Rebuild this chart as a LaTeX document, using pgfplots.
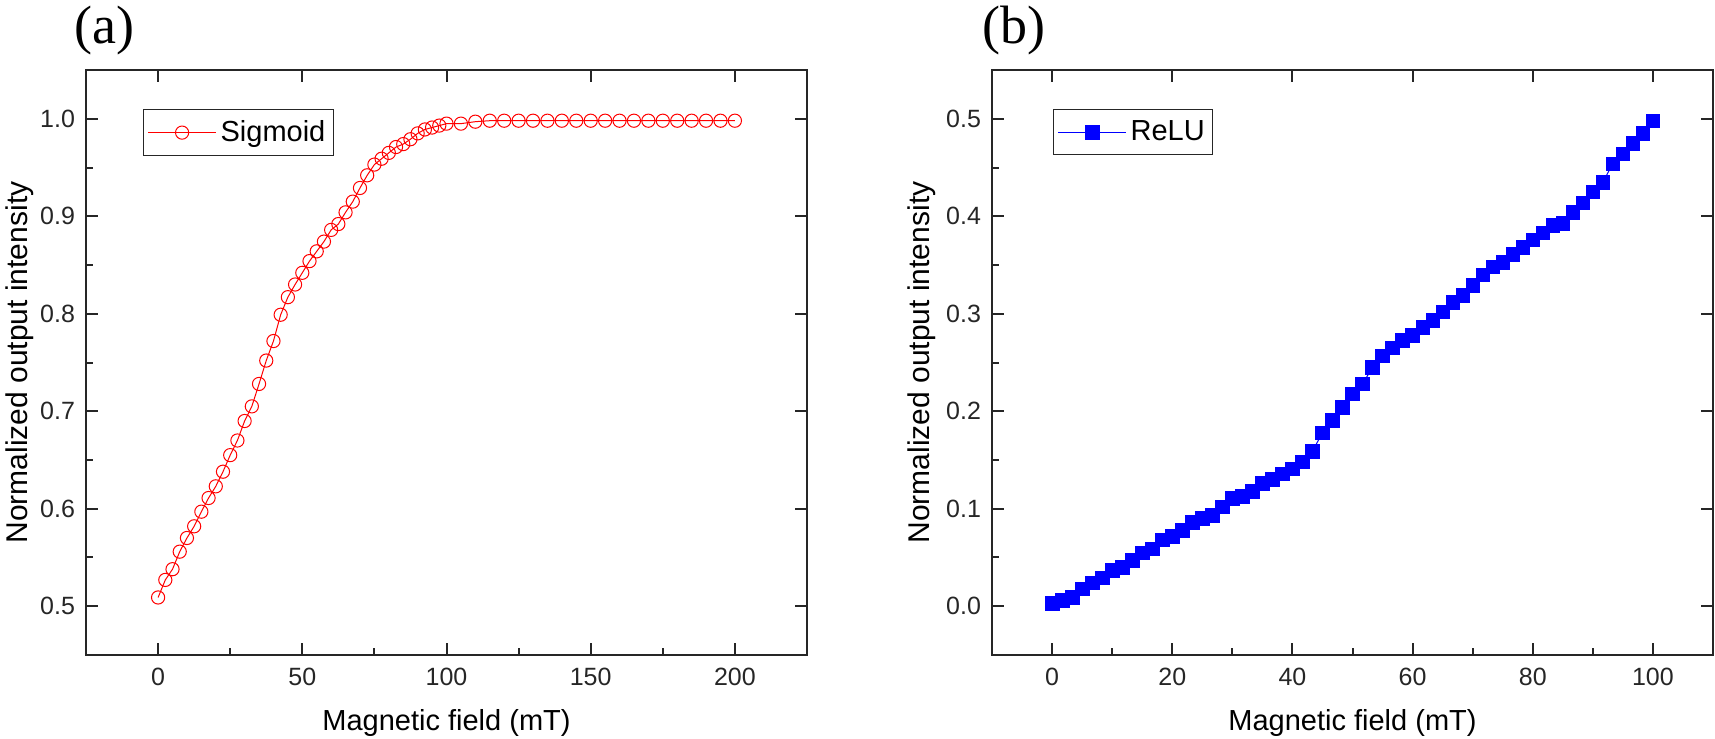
\documentclass[border=0pt]{standalone}
\usepackage{pgfplots}
\pgfplotsset{compat=1.18}
\usepackage{fontspec}
\setmainfont{Liberation Sans}
\newfontfamily\serifpanel{Liberation Serif}

\pgfplotsset{
  myaxis/.style={
    scale only axis, width=360.5pt, height=292.5pt, anchor=south west,
    axis line style={black!85, line width=1pt},
    tick style={black!85, line width=1pt},
    tick align=inside,
    major tick length=6pt, minor tick length=3.5pt,
    xtick pos=left, ytick pos=left,
    minor x tick num=1, minor y tick num=1,
    /pgf/number format/assume math mode=true,
    tick label style={font=\fontsize{12.5}{15}\selectfont, text=black!85},
    xticklabel style={yshift=-3pt},
    yticklabel style={xshift=-2pt, /pgf/number format/.cd, fixed, fixed zerofill, precision=1},
    every axis x label/.style={at={(axis description cs:0.5,0)}, anchor=base, yshift=-38pt, font=\fontsize{14.5}{17}\selectfont, text=black},
    every axis y label/.style={at={(axis description cs:0,0.5)}, rotate=90, anchor=base, yshift=29pt, font=\fontsize{15}{17}\selectfont, text=black},
    legend style={at={(axis description cs:0,1)}, anchor=north west, yshift=-19.5pt,
      draw=black!85, line width=0.6pt, font=\fontsize{14.5}{17}\selectfont,
      inner xsep=2pt, inner ysep=1pt, nodes={inner ysep=4.5pt}},
    legend cell align=left,
    legend image code/.code={\draw[mark repeat=2,mark phase=2,#1] plot coordinates {(0pt,0pt) (17pt,0pt) (34pt,0pt)};},
  },
  mirror/.style={
    scale only axis, width=360.5pt, height=292.5pt, anchor=south west,
    axis line style={black!85, line width=1pt},
    tick style={black!85, line width=1pt},
    tick align=inside, major tick length=6pt,
    xtick pos=right, ytick pos=right, xticklabels={}, yticklabels={},
    minor tick num=0,
  },
}

\begin{document}
\begin{tikzpicture}
\path[use as bounding box] (0pt,0pt) rectangle (857.5pt,369.5pt);

% ---------------- (a) Sigmoid ----------------
\begin{axis}[myaxis, at={(43pt,42pt)},
  xmin=-25, xmax=225, ymin=0.45, ymax=1.05,
  xtick={0,50,100,150,200}, ytick={0.5,0.6,0.7,0.8,0.9,1.0},
  xlabel={Magnetic field (mT)}, ylabel={Normalized output intensity},
  legend style={xshift=28.5pt}]
\addplot[red, line width=0.5pt, mark=o, mark size=3.3pt, mark options={fill=white, line width=0.5pt}] coordinates {
(0,0.509) (2.5,0.527) (5,0.538) (7.5,0.556) (10,0.570) (12.5,0.582) (15,0.597) (17.5,0.611)
(20,0.623) (22.5,0.638) (25,0.655) (27.5,0.670) (30,0.690) (32.5,0.705) (35,0.728) (37.5,0.752)
(40,0.772) (42.5,0.799) (45,0.817) (47.5,0.830) (50,0.842) (52.5,0.854) (55,0.864) (57.5,0.874)
(60,0.886) (62.5,0.892) (65,0.904) (67.5,0.915) (70,0.929) (72.5,0.942) (75,0.953) (77.5,0.959)
(80,0.965) (82.5,0.971) (85,0.974) (87.5,0.979) (90,0.985) (92.5,0.989) (95,0.991) (97.5,0.993)
(100,0.995) (105,0.995) (110,0.997) (115,0.998) (120,0.998) (125,0.998) (130,0.998) (135,0.998)
(140,0.998) (145,0.998) (150,0.998) (155,0.998) (160,0.998) (165,0.998) (170,0.998) (175,0.998)
(180,0.998) (185,0.998) (190,0.998) (195,0.998) (200,0.998)
};
\addlegendentry{Sigmoid}
\end{axis}
\begin{axis}[mirror, at={(43pt,42pt)}, xmin=-25, xmax=225, ymin=0.45, ymax=1.05,
  xtick={0,50,100,150,200}, ytick={0.5,0.6,0.7,0.8,0.9,1.0}]
\end{axis}

% ---------------- (b) ReLU ----------------
\begin{axis}[myaxis, at={(496pt,42pt)},
  xmin=-10, xmax=110, ymin=-0.05, ymax=0.55,
  xtick={0,20,40,60,80,100}, ytick={0,0.1,0.2,0.3,0.4,0.5},
  xlabel={Magnetic field (mT)}, ylabel={Normalized output intensity},
  every axis y label/.style={at={(axis description cs:0,0.5)}, rotate=90, anchor=base, yshift=31.5pt, font=\fontsize{15}{17}\selectfont, text=black},
  legend style={xshift=30.5pt}]
\addplot[blue, line width=0.5pt, mark=square*, mark size=3.4pt, mark options={line width=0.3pt}] coordinates {
(0,0.003) (1.667,0.006) (3.333,0.009) (5,0.018) (6.667,0.024) (8.333,0.029) (10,0.037) (11.667,0.040)
(13.333,0.047) (15,0.055) (16.667,0.059) (18.333,0.068) (20,0.072) (21.667,0.078) (23.333,0.086) (25,0.090)
(26.667,0.093) (28.333,0.102) (30,0.111) (31.667,0.113) (33.333,0.118) (35,0.126) (36.667,0.130) (38.333,0.136)
(40,0.141) (41.667,0.148) (43.333,0.159) (45,0.178) (46.667,0.191) (48.333,0.204) (50,0.218) (51.667,0.228)
(53.333,0.245) (55,0.257) (56.667,0.265) (58.333,0.273) (60,0.278) (61.667,0.286) (63.333,0.293) (65,0.302)
(66.667,0.312) (68.333,0.319) (70,0.329) (71.667,0.340) (73.333,0.348) (75,0.353) (76.667,0.361) (78.333,0.368)
(80,0.376) (81.667,0.383) (83.333,0.391) (85,0.393) (86.667,0.404) (88.333,0.414) (90,0.425) (91.667,0.435)
(93.333,0.454) (95,0.464) (96.667,0.475) (98.333,0.485) (100,0.498)
};
\addlegendentry{ReLU}
\end{axis}
\begin{axis}[mirror, at={(496pt,42pt)}, xmin=-10, xmax=110, ymin=-0.05, ymax=0.55,
  xtick={0,20,40,60,80,100}, ytick={0,0.1,0.2,0.3,0.4,0.5}]
\end{axis}

\node[anchor=base west, font=\serifpanel\fontsize{27}{30}\selectfont, inner sep=0pt] at (37pt,347.5pt) {(a)};
\node[anchor=base west, font=\serifpanel\fontsize{27}{30}\selectfont, inner sep=0pt] at (491pt,347.5pt) {(b)};
\end{tikzpicture}
\end{document}
